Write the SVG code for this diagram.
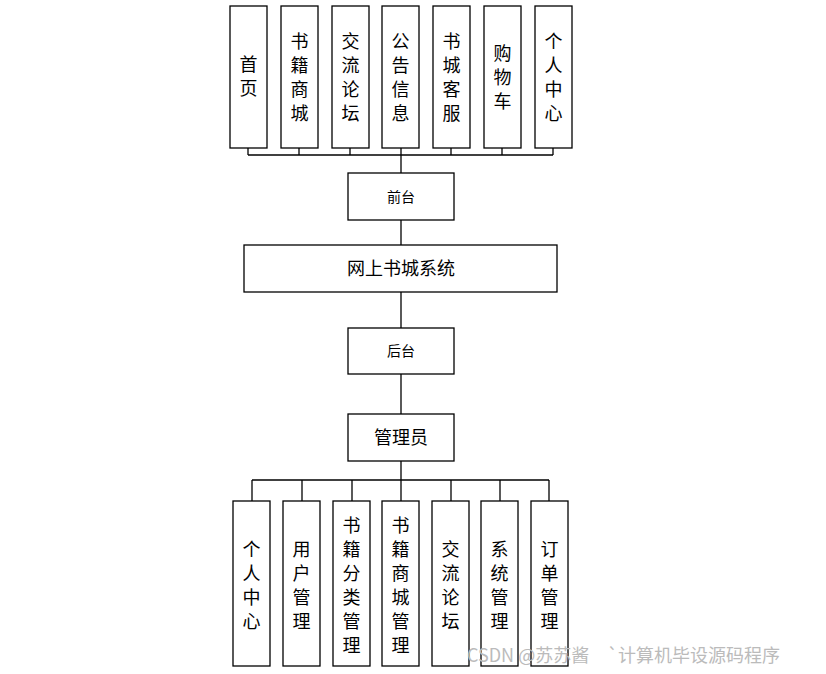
<svg xmlns="http://www.w3.org/2000/svg" width="826" height="674" viewBox="0 0 826 674">
<style>
rect{fill:#fff;stroke:#000;stroke-width:1.3}
line{stroke:#000;stroke-width:1.3}
text{font-family:"Noto Sans CJK SC",sans-serif;font-size:18px;text-anchor:middle;fill:#000}
.s{font-size:14px}
.w{font-size:18px;fill:#bbb;text-anchor:start}
</style>
<rect width="826" height="674" style="fill:#fff;stroke:none"/>
<g id="connectors">
<line x1="248" y1="155" x2="553" y2="155"/>
<line x1="248" y1="148" x2="248" y2="155"/><line x1="299" y1="148" x2="299" y2="155"/><line x1="350" y1="148" x2="350" y2="155"/><line x1="401" y1="148" x2="401" y2="173"/><line x1="451" y1="148" x2="451" y2="155"/><line x1="502" y1="148" x2="502" y2="155"/><line x1="553" y1="148" x2="553" y2="155"/>
<line x1="401" y1="220" x2="401" y2="245"/>
<line x1="401" y1="292" x2="401" y2="328"/>
<line x1="401" y1="374" x2="401" y2="414"/>
<line x1="401" y1="461" x2="401" y2="480"/>
<line x1="252" y1="480" x2="549" y2="480"/>
<line x1="252" y1="480" x2="252" y2="501"/><line x1="302" y1="480" x2="302" y2="501"/><line x1="352" y1="480" x2="352" y2="501"/><line x1="401" y1="480" x2="401" y2="501"/><line x1="451" y1="480" x2="451" y2="501"/><line x1="500" y1="480" x2="500" y2="501"/><line x1="549" y1="480" x2="549" y2="501"/>
</g>
<g id="t1"><rect x="230" y="6" width="37" height="142"/><text x="248.5" y="71">首</text><text x="248.5" y="95">页</text></g>
<g id="t2"><rect x="281" y="6" width="37" height="142"/><text x="299.5" y="48">书</text><text x="299.5" y="72">籍</text><text x="299.5" y="96">商</text><text x="299.5" y="120">城</text></g>
<g id="t3"><rect x="332" y="6" width="37" height="142"/><text x="350.5" y="48">交</text><text x="350.5" y="72">流</text><text x="350.5" y="96">论</text><text x="350.5" y="120">坛</text></g>
<g id="t4"><rect x="382" y="6" width="37" height="142"/><text x="400.5" y="48">公</text><text x="400.5" y="72">告</text><text x="400.5" y="96">信</text><text x="400.5" y="120">息</text></g>
<g id="t5"><rect x="433" y="6" width="37" height="142"/><text x="451.5" y="48">书</text><text x="451.5" y="72">城</text><text x="451.5" y="96">客</text><text x="451.5" y="120">服</text></g>
<g id="t6"><rect x="484" y="6" width="37" height="142"/><text x="502.5" y="60">购</text><text x="502.5" y="84">物</text><text x="502.5" y="108">车</text></g>
<g id="t7"><rect x="535" y="6" width="37" height="142"/><text x="553.5" y="48">个</text><text x="553.5" y="72">人</text><text x="553.5" y="96">中</text><text x="553.5" y="120">心</text></g>
<g id="qiantai"><rect x="348" y="173" width="106" height="47"/><text class="s" x="401" y="202">前台</text></g>
<g id="system"><rect x="244" y="245" width="313" height="47"/><text x="401" y="275">网上书城系统</text></g>
<g id="houtai"><rect x="348" y="328" width="106" height="46"/><text class="s" x="401" y="356">后台</text></g>
<g id="admin"><rect x="348" y="414" width="106" height="47"/><text x="401" y="444">管理员</text></g>
<g id="b1"><rect x="233" y="501" width="37" height="165"/><text x="251.5" y="556">个</text><text x="251.5" y="580">人</text><text x="251.5" y="604">中</text><text x="251.5" y="628">心</text></g>
<g id="b2"><rect x="283" y="501" width="37" height="165"/><text x="301.5" y="556">用</text><text x="301.5" y="580">户</text><text x="301.5" y="604">管</text><text x="301.5" y="628">理</text></g>
<g id="b3"><rect x="333" y="501" width="37" height="165"/><text x="351.5" y="532">书</text><text x="351.5" y="556">籍</text><text x="351.5" y="580">分</text><text x="351.5" y="604">类</text><text x="351.5" y="628">管</text><text x="351.5" y="652">理</text></g>
<g id="b4"><rect x="382" y="501" width="37" height="165"/><text x="400.5" y="532">书</text><text x="400.5" y="556">籍</text><text x="400.5" y="580">商</text><text x="400.5" y="604">城</text><text x="400.5" y="628">管</text><text x="400.5" y="652">理</text></g>
<g id="b5"><rect x="432" y="501" width="37" height="165"/><text x="450.5" y="556">交</text><text x="450.5" y="580">流</text><text x="450.5" y="604">论</text><text x="450.5" y="628">坛</text></g>
<g id="b6"><rect x="481" y="501" width="37" height="165"/><text x="499.5" y="556">系</text><text x="499.5" y="580">统</text><text x="499.5" y="604">管</text><text x="499.5" y="628">理</text></g>
<g id="b7"><rect x="531" y="501" width="37" height="165"/><text x="549.5" y="556">订</text><text x="549.5" y="580">单</text><text x="549.5" y="604">管</text><text x="549.5" y="628">理</text></g>
<text class="w" x="467" y="662">CSDN @苏苏酱　`计算机毕设源码程序</text>
</svg>
